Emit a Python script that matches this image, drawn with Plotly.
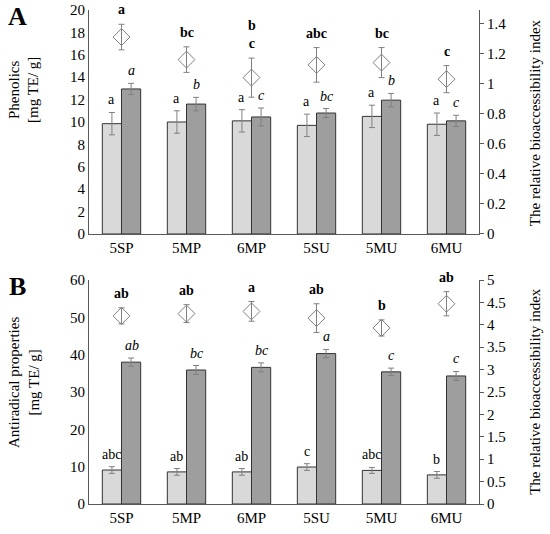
import plotly.graph_objects as go
from plotly.subplots import make_subplots

categories = ["5SP", "5MP", "6MP", "5SU", "5MU", "6MU"]

# Panel A - Phenolics [mg TE/ g]
phen_before = [9.85, 10.0, 10.1, 9.7, 10.5, 9.8]
phen_before_err = [1.0, 1.0, 1.0, 1.0, 1.0, 1.0]
phen_after = [12.95, 11.6, 10.45, 10.8, 11.95, 10.1]
phen_after_err = [0.5, 0.6, 0.8, 0.4, 0.6, 0.5]
phen_index = [1.31, 1.16, 1.04, 1.125, 1.14, 1.03]
phen_index_err = [0.085, 0.085, 0.13, 0.115, 0.1, 0.09]
phen_before_lbl = ["a", "a", "a", "a", "a", "a"]
phen_after_lbl = ["a", "b", "c", "bc", "b", "c"]
phen_index_lbl = ["a", "bc", "b<br>c", "abc", "bc", "c"]

# Panel B - Antiradical properties [mg TE/ g]
anti_before = [9.1, 8.6, 8.6, 9.9, 9.0, 7.8]
anti_before_err = [0.9, 0.9, 0.9, 0.9, 0.8, 0.9]
anti_after = [38.0, 35.9, 36.6, 40.3, 35.4, 34.3]
anti_after_err = [1.1, 1.2, 1.2, 1.1, 1.0, 1.2]
anti_index = [4.2, 4.25, 4.3, 4.15, 3.93, 4.47]
anti_index_err = [0.18, 0.2, 0.22, 0.32, 0.18, 0.27]
anti_before_lbl = ["abc", "ab", "ab", "c", "abc", "b"]
anti_after_lbl = ["ab", "bc", "bc", "a", "c", "c"]
anti_index_lbl = ["ab", "ab", "a", "ab", "b", "ab"]

FONT = "Liberation Serif"
LIGHT = "#d9d9d9"
DARK = "#9e9e9e"
EDGE = "#333333"
ERR = "#808080"

fig = make_subplots(rows=2, cols=1, specs=[[{"secondary_y": True}], [{"secondary_y": True}]],
                    vertical_spacing=0.0)

panels = [
    (1, phen_before, phen_before_err, phen_after, phen_after_err, phen_index, phen_index_err,
     phen_before_lbl, phen_after_lbl, phen_index_lbl),
    (2, anti_before, anti_before_err, anti_after, anti_after_err, anti_index, anti_index_err,
     anti_before_lbl, anti_after_lbl, anti_index_lbl),
]

for (row, bv, be, av, ae, iv, ie, bl, al, il) in panels:
    fig.add_trace(go.Bar(x=categories, y=bv, marker=dict(color=LIGHT, line=dict(color=EDGE, width=1)),
                         error_y=dict(type="data", array=be, color=ERR, thickness=1, width=3),
                         showlegend=False), row=row, col=1, secondary_y=False)
    fig.add_trace(go.Bar(x=categories, y=av, marker=dict(color=DARK, line=dict(color=EDGE, width=1)),
                         error_y=dict(type="data", array=ae, color=ERR, thickness=1, width=3),
                         showlegend=False), row=row, col=1, secondary_y=False)
    fig.add_trace(go.Scatter(x=categories, y=iv, mode="markers",
                             marker=dict(symbol="diamond-open", size=13, color=ERR, line=dict(width=1)),
                             error_y=dict(type="data", array=ie, color=ERR, thickness=1, width=3),
                             showlegend=False), row=row, col=1, secondary_y=True)

    yax = "y" if row == 1 else "y3"
    yax2 = "y2" if row == 1 else "y4"
    xax = "x" if row == 1 else "x2"
    for i, c in enumerate(categories):
        fig.add_annotation(x=c, y=bv[i] + be[i], xref=xax, yref=yax, text=bl[i], showarrow=False,
                           xshift=-10, yshift=3, yanchor="bottom",
                           font=dict(family=FONT, size=14, color="black"))
        fig.add_annotation(x=c, y=av[i] + ae[i], xref=xax, yref=yax, text="<i>" + al[i] + "</i>",
                           showarrow=False, xshift=10, yshift=3, yanchor="bottom",
                           font=dict(family=FONT, size=14, color="black"))
        fig.add_annotation(x=c, y=iv[i] + ie[i], xref=xax, yref=yax2, text="<b>" + il[i] + "</b>",
                           showarrow=False, yshift=5, yanchor="bottom",
                           font=dict(family=FONT, size=14, color="black"))

axis_common = dict(showline=True, linecolor="#595959", linewidth=1, showgrid=False, zeroline=False,
                   automargin=False, tickfont=dict(family=FONT, size=15, color="black"))

fig.update_layout(
    width=550, height=534,
    margin=dict(l=89, r=71, t=10, b=30),
    paper_bgcolor="white", plot_bgcolor="white",
    barmode="group", bargap=0.41, bargroupgap=0,
    font=dict(family=FONT, color="black"),
    showlegend=False,
)

fig.update_xaxes(**axis_common, ticks="")
fig.update_layout(
    xaxis=dict(domain=[0, 1], anchor="y"),
    xaxis2=dict(domain=[0, 1], anchor="y3"),
    yaxis=dict(domain=[0.5466, 1.0], range=[0, 20], dtick=2, ticks="", **axis_common),
    yaxis2=dict(domain=[0.5466, 1.0], range=[0, 1.49], dtick=0.2, side="right", overlaying="y",
                ticks="outside", ticklen=4, tickcolor="#595959", **axis_common),
    yaxis3=dict(domain=[0.0, 0.4534], range=[0, 60], dtick=10, ticks="", **axis_common),
    yaxis4=dict(domain=[0.0, 0.4534], range=[0, 5], dtick=0.5, side="right", overlaying="y3",
                ticks="outside", ticklen=4, tickcolor="#595959", **axis_common),
)

titles = [
    ("Phenolics<br>[mg TE/ g]", -0.1667, 0.838),
    ("Antiradical properties<br>[mg TE/ g]", -0.1667, 0.247),
    ("The relative bioaccessibility index", 1.1436, 0.771),
    ("The relative bioaccessibility index", 1.1436, 0.227),
]
for txt, xp, yp in titles:
    fig.add_annotation(text=txt, xref="paper", yref="paper", x=xp, y=yp, textangle=-90,
                       xanchor="center", yanchor="middle", showarrow=False,
                       font=dict(family=FONT, size=15, color="black"))

fig.add_annotation(text="<b>A</b>", xref="paper", yref="paper", x=-0.183, y=1.0, xanchor="center",
                   yanchor="middle", yshift=-6, showarrow=False, font=dict(family=FONT, size=26, color="black"))
fig.add_annotation(text="<b>B</b>", xref="paper", yref="paper", x=-0.183, y=0.4534, xanchor="center",
                   yanchor="middle", yshift=-6, showarrow=False, font=dict(family=FONT, size=26, color="black"))

fig.write_html("out.html", config={"displayModeBar": False},
               post_script="document.body.style.margin='0';document.body.style.overflow='hidden';")
